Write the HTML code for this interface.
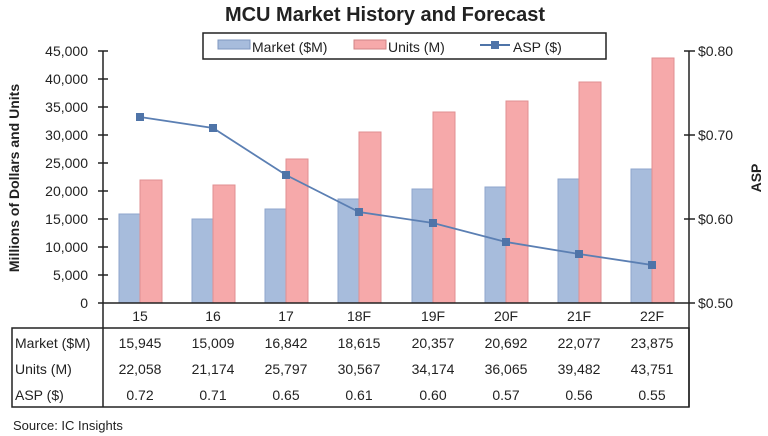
<!DOCTYPE html><html><head><style>body{margin:0;background:#fff}svg{display:block}text{font-family:"Liberation Sans",sans-serif;fill:#222}</style></head><body>
<svg width="768" height="436" viewBox="0 0 768 436" xmlns="http://www.w3.org/2000/svg">
<text x="385" y="21" text-anchor="middle" font-size="20" font-weight="bold">MCU Market History and Forecast</text>
<rect x="203" y="33" width="403" height="26" fill="#fff" stroke="#222" stroke-width="1.5"/>
<rect x="218" y="40" width="32" height="9" fill="#a7bcdc" stroke="#7f97c0"/><text x="252" y="52" font-size="14">Market ($M)</text>
<rect x="354" y="40" width="32" height="9" fill="#f6a9aa" stroke="#d08486"/><text x="388" y="52" font-size="14">Units (M)</text>
<line x1="480" y1="45" x2="510" y2="45" stroke="#4f74a8" stroke-width="2"/><rect x="491" y="41" width="8" height="8" fill="#4f74a8"/><text x="513" y="52" font-size="14">ASP ($)</text>
<g font-size="14" text-anchor="end">
<text x="88" y="56">45,000</text><text x="88" y="84">40,000</text><text x="88" y="112">35,000</text><text x="88" y="140">30,000</text><text x="88" y="168">25,000</text><text x="88" y="196">20,000</text><text x="88" y="224">15,000</text><text x="88" y="252">10,000</text><text x="88" y="280">5,000</text><text x="88" y="308">0</text></g>
<g font-size="14"><text x="698" y="56">$0.80</text><text x="698" y="140">$0.70</text><text x="698" y="224">$0.60</text><text x="698" y="308">$0.50</text></g>
<text transform="translate(19,178) rotate(-90)" text-anchor="middle" font-size="14" font-weight="bold">Millions of Dollars and Units</text>
<text transform="translate(761,178) rotate(-90)" text-anchor="middle" font-size="14" font-weight="bold">ASP</text>
<g stroke="#222" stroke-width="1.5">
<line x1="103" y1="51" x2="103" y2="407"/><line x1="689" y1="51" x2="689" y2="407"/>
<line x1="98" y1="51" x2="108" y2="51"/><line x1="98" y1="79" x2="108" y2="79"/><line x1="98" y1="107" x2="108" y2="107"/><line x1="98" y1="135" x2="108" y2="135"/><line x1="98" y1="163" x2="108" y2="163"/><line x1="98" y1="191" x2="108" y2="191"/><line x1="98" y1="219" x2="108" y2="219"/><line x1="98" y1="247" x2="108" y2="247"/><line x1="98" y1="275" x2="108" y2="275"/>
<line x1="684" y1="51" x2="695" y2="51"/><line x1="684" y1="135" x2="695" y2="135"/><line x1="684" y1="219" x2="695" y2="219"/><line x1="689" y1="303" x2="695" y2="303"/>
</g>
<g stroke-width="1">
<rect x="119" y="214" width="21" height="89" fill="#a7bcdc" stroke="#8fa6cc"/><rect x="140" y="180" width="22" height="123" fill="#f6a9aa" stroke="#e08f91"/>
<rect x="192" y="219" width="21" height="84" fill="#a7bcdc" stroke="#8fa6cc"/><rect x="213" y="185" width="22" height="118" fill="#f6a9aa" stroke="#e08f91"/>
<rect x="265" y="209" width="21" height="94" fill="#a7bcdc" stroke="#8fa6cc"/><rect x="286" y="159" width="22" height="144" fill="#f6a9aa" stroke="#e08f91"/>
<rect x="338" y="199" width="21" height="104" fill="#a7bcdc" stroke="#8fa6cc"/><rect x="359" y="132" width="22" height="171" fill="#f6a9aa" stroke="#e08f91"/>
<rect x="412" y="189" width="21" height="114" fill="#a7bcdc" stroke="#8fa6cc"/><rect x="433" y="112" width="22" height="191" fill="#f6a9aa" stroke="#e08f91"/>
<rect x="485" y="187" width="21" height="116" fill="#a7bcdc" stroke="#8fa6cc"/><rect x="506" y="101" width="22" height="202" fill="#f6a9aa" stroke="#e08f91"/>
<rect x="558" y="179" width="21" height="124" fill="#a7bcdc" stroke="#8fa6cc"/><rect x="579" y="82" width="22" height="221" fill="#f6a9aa" stroke="#e08f91"/>
<rect x="631" y="169" width="21" height="134" fill="#a7bcdc" stroke="#8fa6cc"/><rect x="652" y="58" width="22" height="245" fill="#f6a9aa" stroke="#e08f91"/>
</g>
<polyline points="140,117 213,128 286,175 359,212 433,223 506,242 579,254 652,265" fill="none" stroke="#5b7fb3" stroke-width="1.8"/>
<g fill="#4f74a8"><rect x="136" y="113" width="8" height="8"/><rect x="209" y="124" width="8" height="8"/><rect x="282" y="171" width="8" height="8"/><rect x="355" y="208" width="8" height="8"/><rect x="429" y="219" width="8" height="8"/><rect x="502" y="238" width="8" height="8"/><rect x="575" y="250" width="8" height="8"/><rect x="648" y="261" width="8" height="8"/></g>
<g stroke="#222" stroke-width="1.5" fill="none"><line x1="98" y1="303" x2="689" y2="303"/><rect x="12" y="328" width="677" height="79"/></g>
<g font-size="14" text-anchor="middle">
<text x="140" y="321">15</text><text x="213" y="321">16</text><text x="286" y="321">17</text><text x="359" y="321">18F</text><text x="433" y="321">19F</text><text x="506" y="321">20F</text><text x="579" y="321">21F</text><text x="652" y="321">22F</text>
<text x="140" y="348">15,945</text><text x="213" y="348">15,009</text><text x="286" y="348">16,842</text><text x="359" y="348">18,615</text><text x="433" y="348">20,357</text><text x="506" y="348">20,692</text><text x="579" y="348">22,077</text><text x="652" y="348">23,875</text>
<text x="140" y="374">22,058</text><text x="213" y="374">21,174</text><text x="286" y="374">25,797</text><text x="359" y="374">30,567</text><text x="433" y="374">34,174</text><text x="506" y="374">36,065</text><text x="579" y="374">39,482</text><text x="652" y="374">43,751</text>
<text x="140" y="400">0.72</text><text x="213" y="400">0.71</text><text x="286" y="400">0.65</text><text x="359" y="400">0.61</text><text x="433" y="400">0.60</text><text x="506" y="400">0.57</text><text x="579" y="400">0.56</text><text x="652" y="400">0.55</text></g>
<g font-size="14"><text x="15" y="348">Market ($M)</text><text x="15" y="374">Units (M)</text><text x="15" y="400">ASP ($)</text></g>
<text x="13" y="430" font-size="13">Source:  IC Insights</text>
</svg></body></html>
